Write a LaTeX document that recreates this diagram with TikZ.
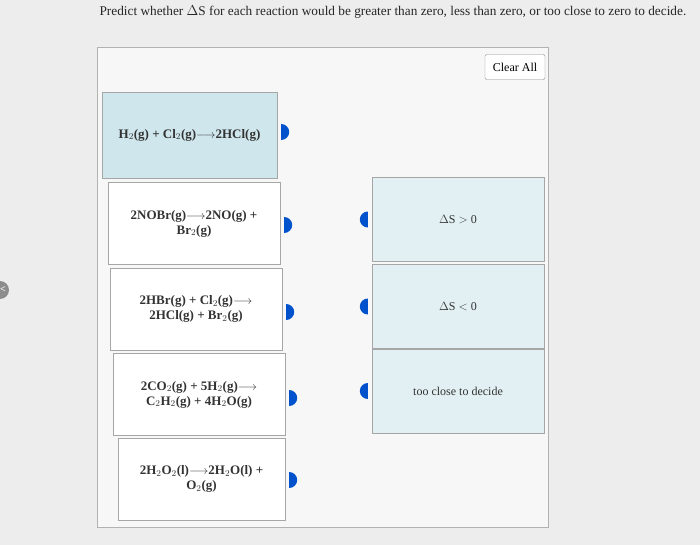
\documentclass[tikz,border=0pt]{standalone}
\usepackage{fontspec}
\setmainfont{Liberation Serif}
\definecolor{selteal}{RGB}{206,230,236}
\definecolor{tgtteal}{RGB}{226,240,243}
\begin{document}
\begin{tikzpicture}[x=1pt,y=-1pt,
  card/.style={draw=black!35,fill=white,minimum width=172pt,minimum height=82pt,inner sep=0pt,font=\fontsize{13}{15}\selectfont\bfseries,align=center,text=black!80},
  tgt/.style={draw=black!35,fill=tgtteal,minimum width=172pt,minimum height=84pt,inner sep=0pt,font=\fontsize{12}{14}\selectfont,align=center,text=black!80},
  tab/.style={fill=blue!60!cyan!80!black,inner sep=0pt}]
\useasboundingbox (0,0) rectangle (700,545);
\fill[black!7] (0,0) rectangle (700,545);
\node[anchor=west,font=\fontsize{13.3}{15}\selectfont,text=black!85] (title) at (96,12) {Predict whether $\Delta$S for each reaction would be greater than zero, less than zero, or too close to zero to decide.};
\node[draw=black!30,fill=white!97!black,minimum width=451pt,minimum height=480pt,anchor=north west,inner sep=0pt] (panel) at (97,47) {};
\node[draw=black!45,fill=white,rounded corners=2pt,minimum width=60pt,minimum height=25pt,font=\fontsize{12}{14}\selectfont] (clear) at (515,67) {Clear All};
\node[card,fill=selteal,minimum width=175pt,minimum height=86pt] (c1) at (189.5,135) {H$_2$(g) + Cl$_2$(g)$\longrightarrow$2HCl(g)};
\node[card] (c2) at (194,223.5) {2NOBr(g)$\longrightarrow$2NO(g) +\\Br$_2$(g)};
\node[card] (c3) at (196,309) {2HBr(g) + Cl$_2$(g)$\longrightarrow$\\2HCl(g) + Br$_2$(g)};
\node[card] (c4) at (199,394.5) {2CO$_2$(g) + 5H$_2$(g)$\longrightarrow$\\C$_2$H$_2$(g) + 4H$_2$O(g)};
\node[card,minimum width=167pt] (c5) at (201.5,479) {2H$_2$O$_2$(l)$\longrightarrow$2H$_2$O(l) +\\O$_2$(g)};
\foreach \n/\y in {c1/132,c2/225,c3/312,c4/398,c5/480}
  \fill[tab] (\n.east |- 0,\y) ++(4,8) arc (90:-90:8) -- cycle;
\node[tgt] (t1) at (458,219.5) {$\Delta$S $>$ 0};
\node[tgt] (t2) at (458,306.5) {$\Delta$S $<$ 0};
\node[tgt] (t3) at (458,391) {too close to decide};
\foreach \n in {t1,t2,t3}
  \fill[tab] (\n.west) ++(-4,8) arc (90:270:8) -- cycle;
\fill[black!45] (0,290) circle (9);
\node[text=white,font=\bfseries] (arr) at (3,290) {<};
\end{tikzpicture}
\end{document}
